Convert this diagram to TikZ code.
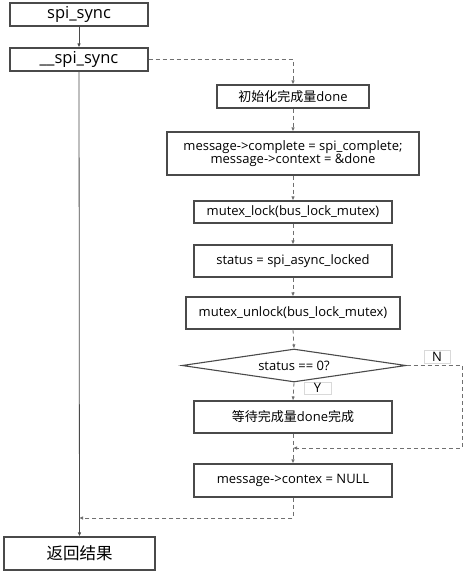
\documentclass[tikz,border=0pt]{standalone}
\usepackage{fontspec}
\setmainfont{Open Sans}
\newfontfamily\cjk{Noto Sans CJK SC}
\usetikzlibrary{arrows.meta,shapes.geometric}
\definecolor{boxc}{HTML}{4A4A4A}
\definecolor{dashc}{HTML}{707070}
\tikzset{
  x=1pt,y=-1pt,
  box/.style={draw=boxc,line width=1.1pt,fill=white,inner sep=0pt,align=center,font=\fontsize{13}{14}\selectfont},
  bigbox/.style={box,font=\fontsize{16.5}{18}\selectfont},
  solidarr/.style={draw=boxc,line width=0.8pt,-{Latex[length=4pt,width=3.5pt]}},
  dasharr/.style={draw=dashc,line width=0.8pt,dash pattern=on 4pt off 3pt,-{Latex[length=4pt,width=3.5pt]}},
  lab/.style={draw=black!15,line width=0.6pt,fill=white,inner sep=0pt,font=\fontsize{13}{14}\selectfont}
}
\begin{document}
\begin{tikzpicture}
\useasboundingbox (0,0) rectangle (474,576);
\node[bigbox,minimum width=138pt,minimum height=23pt] (sync) at (79,14.5) {spi\_sync};
\node[bigbox,minimum width=138pt,minimum height=23pt] (usync) at (79,59.5) {\_\_spi\_sync};
\node[box,minimum width=152pt,minimum height=23pt] (init) at (293,96.5) {{\cjk 初始化完成量}done};
\node[box,minimum width=252pt,minimum height=43pt] (msg) at (293,153.5) {message->complete = spi\_complete;\\[-1pt]message->context = \&done};
\node[box,minimum width=198pt,minimum height=22pt] (lock) at (293,212) {mutex\_lock(bus\_lock\_mutex)};
\node[box,minimum width=198pt,minimum height=32pt] (stat) at (293,261) {status = spi\_async\_locked};
\node[box,minimum width=214pt,minimum height=32pt] (unlock) at (293,313) {mutex\_unlock(bus\_lock\_mutex)};
\node[box,diamond,aspect=6.8,minimum width=224pt,minimum height=33pt] (dec) at (294,365.5) {status == 0?};
\node[box,minimum width=198pt,minimum height=32pt] (wait) at (293,417) {{\cjk 等待完成量}done{\cjk 完成}};
\node[box,minimum width=198pt,minimum height=33pt] (null) at (293,480.5) {message->contex = NULL};
\node[bigbox,minimum width=151pt,minimum height=33pt] (ret) at (79.5,553.5) {{\cjk 返回结果}};
\node[lab,minimum width=26pt,minimum height=13pt] (nl) at (437,356.5) {N};
\node[lab,minimum width=27pt,minimum height=12pt] (yl) at (317.5,388) {Y};
\coordinate (nr) at (462,365.5);
\coordinate (nb) at (462,448);
\coordinate (mj) at (293,448);
\coordinate (rj) at (79,518);
\coordinate (nd) at (293,518);
\draw[solidarr] (sync) -- (usync);
\draw[solidarr] (usync) -- (ret);
\draw[dasharr] (usync.east) -| (init.north);
\draw[dasharr] (init) -- (msg);
\draw[dasharr] (msg) -- (lock);
\draw[dasharr] (lock) -- (stat);
\draw[dasharr] (stat) -- (unlock);
\draw[dasharr] (unlock.south) -- (dec.north);
\draw[dasharr] (dec.south) -- (wait.north);
\draw[dasharr] (wait) -- (null);
\draw[dasharr] (dec.east) -- (nr) -- (nb) -- (mj);
\draw[dasharr] (null.south) -- (nd) -- (rj);
\end{tikzpicture}
\end{document}
